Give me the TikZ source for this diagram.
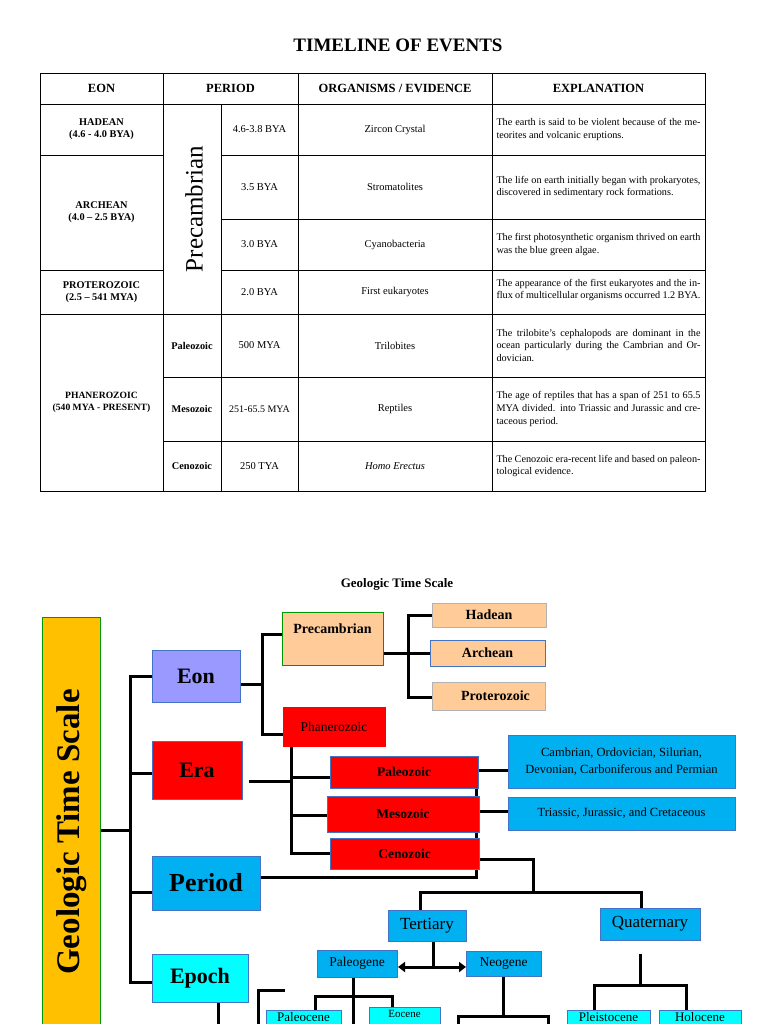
\documentclass[tikz,border=0pt]{standalone}
\usepackage{fontspec}
\setmainfont{Liberation Serif}
\usetikzlibrary{arrows.meta}
\definecolor{peach}{HTML}{FFCC99}
\definecolor{skyb}{HTML}{00B0F0}
\definecolor{cyanb}{HTML}{00FFFF}
\definecolor{redb}{HTML}{FF0000}
\definecolor{lila}{HTML}{9999FF}
\definecolor{gold}{HTML}{FFC000}
\definecolor{bord}{HTML}{4472C4}
\tikzset{
 cell/.style={font=\fontsize{10.5}{12}\selectfont, align=center, inner sep=1pt},
 bcell/.style={cell, font=\fontsize{10.3}{12}\selectfont\bfseries},
 hcell/.style={font=\fontsize{12.5}{14}\selectfont\bfseries, inner sep=1pt},
 expl/.style={font=\fontsize{10.2}{12.8}\selectfont, text width=204pt, align=justify, inner sep=0pt},
 box/.style={draw=bord, line width=0.6pt, inner sep=0pt, align=center},
 conn/.style={line width=3pt, line cap=rect},
}
\begin{document}
\begin{tikzpicture}[x=1pt,y=-1pt]
\useasboundingbox (0,0) rectangle (768,1024);
\clip (0,0) rectangle (768,1024);
\fill[white] (0,0) rectangle (768,1024);
\node[font=\fontsize{19}{21}\selectfont\bfseries] (title) at (398,45) {TIMELINE OF EVENTS};
\begin{scope}[line width=0.7pt]
\draw (40,73) rectangle (705,491);
\foreach \x in {163,298,492} \draw (\x,73) -- (\x,491);
\draw (221,104) -- (221,491);
\draw (40,104) -- (705,104);
\draw (40,155) -- (163,155) (221,155) -- (705,155);
\draw (221,219) -- (705,219);
\draw (40,270) -- (163,270) (221,270) -- (705,270);
\draw (40,314) -- (705,314);
\draw (163,377) -- (705,377);
\draw (163,441) -- (705,441);
\end{scope}
\node[hcell] (h1) at (101.5,88.5) {EON};
\node[hcell] (h2) at (230.5,88.5) {PERIOD};
\node[hcell] (h3) at (395,88.5) {ORGANISMS / EVIDENCE};
\node[hcell] (h4) at (598.5,88.5) {EXPLANATION};
\node[bcell] (e1) at (101.5,129.5) {HADEAN\\(4.6 - 4.0 BYA)};
\node[bcell] (e2) at (101.5,212.5) {ARCHEAN\\(4.0 -- 2.5 BYA)};
\node[bcell] (e3) at (101.5,292) {PROTEROZOIC\\(2.5 -- 541 MYA)};
\node[bcell, font=\fontsize{9.6}{12}\selectfont\bfseries] (e4) at (101.5,402.5) {PHANEROZOIC\\(540 MYA - PRESENT)};
\node[rotate=90, font=\fontsize{25}{27}\selectfont] (pre) at (194,209) {Precambrian};
\node[bcell] (p1) at (192,345.5) {Paleozoic};
\node[bcell] (p2) at (192,409) {Mesozoic};
\node[bcell] (p3) at (192,466) {Cenozoic};
\node[cell] (d1) at (259.5,129.5) {4.6-3.8 BYA};
\node[cell] (d2) at (259.5,187) {3.5 BYA};
\node[cell] (d3) at (259.5,244.5) {3.0 BYA};
\node[cell] (d4) at (259.5,292) {2.0 BYA};
\node[cell] (d5) at (259.5,345.5) {500 MYA};
\node[cell, font=\fontsize{10}{12}\selectfont] (d6) at (259.5,409) {251-65.5 MYA};
\node[cell] (d7) at (259.5,466) {250 TYA};
\node[cell] (o1) at (395,129.5) {Zircon Crystal};
\node[cell] (o2) at (395,187) {Stromatolites};
\node[cell] (o3) at (395,244.5) {Cyanobacteria};
\node[cell] (o4) at (395,292) {First eukaryotes};
\node[cell] (o5) at (395,345.5) {Trilobites};
\node[cell] (o6) at (395,409) {Reptiles};
\node[cell] (o7) at (395,466) {\itshape Homo Erectus};
\node[expl] (x1) at (598.5,129.5) {The earth is said to be violent because of the meteorites and volcanic eruptions.};
\node[expl] (x2) at (598.5,187) {The life on earth initially began with prokaryotes, discovered in sedimentary rock formations.};
\node[expl] (x3) at (598.5,244.5) {The first photosynthetic organism thrived on earth was the blue green algae.};
\node[expl] (x4) at (598.5,290) {The appearance of the first eukaryotes and the influx of multicellular organisms occurred 1.2 BYA.};
\node[expl] (x5) at (598.5,345.5) {The trilobite's cephalopods are dominant in the ocean particularly during the Cambrian and Ordovician.};
\node[expl] (x6) at (598.5,409) {The age of reptiles that has a span of 251 to 65.5 MYA divided. into Triassic and Jurassic and cretaceous period.};
\node[expl] (x7) at (598.5,466) {The Cenozoic era-recent life and based on paleontological evidence.};

% ---- diagram ----
\node[font=\fontsize{13}{15}\selectfont\bfseries] (gts) at (397,584) {Geologic Time Scale};
\draw[conn] (100,830) -- (130,830);
\draw[conn] (152,676) -- (130,676) -- (130,982) -- (152,982);
\draw[conn] (130,773) -- (152,773);
\draw[conn] (130,892) -- (152,892);
\draw[conn] (240,684) -- (262,684);
\draw[conn] (282,634) -- (262,634) -- (262,734) -- (283,734);
\draw[conn] (383,653) -- (432,653);
\draw[conn] (432,615) -- (408,615) -- (408,697) -- (432,697);
\draw[conn] (291,746) -- (291,853) -- (330,853);
\draw[conn] (291,777) -- (330,777);
\draw[conn] (291,815) -- (327,815);
\draw[conn] (250,781) -- (291,781);
\draw[conn] (478,770) -- (508,770);
\draw[conn] (479,811) -- (508,811);
\draw[conn] (260,877) -- (476,877) -- (476,788);
\draw[conn] (479,859) -- (533,859) -- (533,892);
\draw[conn] (420,910) -- (420,892) -- (641,892) -- (641,908);
\draw[conn] (433,941) -- (433,967);
\draw[conn, line cap=butt, {Triangle[length=7pt,width=10pt]}-{Triangle[length=7pt,width=10pt]}] (398,967) -- (466,967);
\draw[conn] (640,955) -- (640,985);
\draw[conn] (594,1010) -- (594,985) -- (686,985) -- (686,1010);
\draw[conn] (353,977) -- (353,1030);
\draw[conn] (315,1010) -- (315,996) -- (392,996) -- (392,1007);
\draw[conn] (503,977) -- (503,1016);
\draw[conn] (458,1030) -- (458,1016) -- (548,1016) -- (548,1030);
\draw[conn] (218,1002) -- (218,1030);
\draw[conn] (258,1030) -- (258,990) -- (283,990);
% boxes
\fill[gold] (42,617) rectangle (100,1030);
\draw[green!60!black, line width=0.4pt] (42,1030) -- (42,617) -- (100,617) -- (100,1030);
\node[rotate=90, font=\fontsize{33}{35}\selectfont\bfseries] (gtsbar) at (72,832) {Geologic Time Scale};
\node[box, fill=lila, minimum width=88pt, minimum height=52pt, font=\fontsize{22}{24}\selectfont\bfseries] (eon) at (196,676) {Eon};
\node[box, fill=redb, minimum width=90pt, minimum height=58pt, font=\fontsize{22}{24}\selectfont\bfseries] (era) at (197,770) {Era};
\node[box, fill=skyb, minimum width=108pt, minimum height=54pt, font=\fontsize{26}{28}\selectfont\bfseries] (period) at (206,883) {Period};
\node[box, fill=cyanb, minimum width=96pt, minimum height=48pt, font=\fontsize{22}{24}\selectfont\bfseries] (epoch) at (200,978) {Epoch};
\node[box, draw=green!60!black, fill=peach, minimum width=101pt, minimum height=53pt, font=\fontsize{14}{16}\selectfont\bfseries] (precam) at (332.5,638.5) {Precambrian\\[4pt]\mbox{}};
\node[box, draw=redb, fill=redb, minimum width=102pt, minimum height=39pt, font=\fontsize{13.5}{15}\selectfont] (phan) at (334,726.5) {Phanerozoic};
\node[box, draw=gray!60, fill=peach, minimum width=114pt, minimum height=24pt, font=\fontsize{14}{16}\selectfont\bfseries] (had) at (489,615) {Hadean};
\node[box, fill=peach, minimum width=115pt, minimum height=26pt, font=\fontsize{14}{16}\selectfont\bfseries] (arch) at (487.5,653) {Archean};
\node[box, draw=gray!60, fill=peach, minimum width=113pt, minimum height=28pt, font=\fontsize{14}{16}\selectfont\bfseries] (prot) at (488.5,696) {\hspace*{14pt}Proterozoic};
\node[box, fill=redb, minimum width=148pt, minimum height=32pt, font=\fontsize{13.5}{15}\selectfont\bfseries] (paleo) at (404,772) {Paleozoic};
\node[box, fill=redb, minimum width=152pt, minimum height=36pt, font=\fontsize{13.5}{15}\selectfont\bfseries] (meso) at (403,814) {Mesozoic};
\node[box, fill=redb, minimum width=149pt, minimum height=31pt, font=\fontsize{13.5}{15}\selectfont\bfseries] (ceno) at (404.5,853.5) {Cenozoic};
\node[box, fill=skyb, minimum width=227pt, minimum height=53pt, font=\fontsize{12.5}{16.5}\selectfont] (cambr) at (621.5,761.5) {Cambrian, Ordovician, Silurian,\\Devonian, Carboniferous and Permian};
\node[box, fill=skyb, minimum width=227pt, minimum height=33pt, font=\fontsize{12.5}{14}\selectfont] (trias) at (621.5,813.5) {Triassic, Jurassic, and Cretaceous};
\node[box, fill=skyb, minimum width=78pt, minimum height=31pt, font=\fontsize{17}{19}\selectfont] (tert) at (427,925.5) {Tertiary};
\node[box, fill=skyb, minimum width=100pt, minimum height=32pt, font=\fontsize{17}{19}\selectfont] (quat) at (650,924) {Quaternary};
\node[box, fill=skyb, minimum width=80pt, minimum height=27pt, font=\fontsize{13.5}{15}\selectfont] (paleog) at (357,963.5) {Paleogene};
\node[box, fill=skyb, minimum width=75pt, minimum height=25pt, font=\fontsize{13.5}{15}\selectfont] (neog) at (503.5,963.5) {Neogene};
\node[box, fill=cyanb, minimum width=75pt, minimum height=30pt, anchor=north, font=\fontsize{13}{15}\selectfont] (paleoc) at (303.5,1010) {Paleocene\\[2pt]\mbox{}};
\node[box, fill=cyanb, minimum width=71pt, minimum height=30pt, anchor=north, font=\fontsize{11}{13}\selectfont] (eoc) at (404.5,1007) {Eocene\\[4pt]\mbox{}};
\node[box, fill=cyanb, minimum width=83pt, minimum height=30pt, anchor=north, font=\fontsize{13}{15}\selectfont] (pleis) at (608.5,1010) {Pleistocene\\[2pt]\mbox{}};
\node[box, fill=cyanb, minimum width=82pt, minimum height=30pt, anchor=north, font=\fontsize{13}{15}\selectfont] (holo) at (700,1010) {Holocene\\[2pt]\mbox{}};
\end{tikzpicture}
\end{document}
